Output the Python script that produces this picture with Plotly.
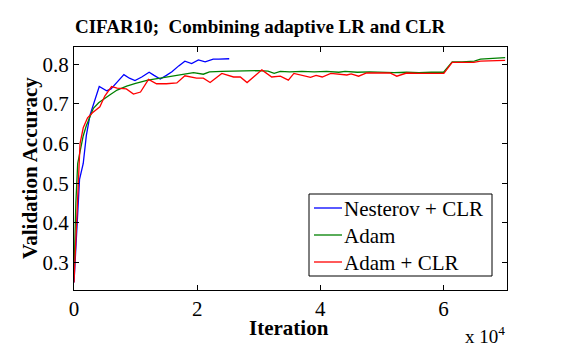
import plotly.graph_objects as go

# Nesterov + CLR
nest_x = [0, 500, 900, 1500, 2000, 2600, 3200, 4100, 5300, 6000, 7000, 8100, 9000, 9900,
          11000, 12200, 13000, 14000, 15000, 15900, 17000, 18000, 19100, 20200, 21300,
          22600, 23500, 25200]
nest_y = [0.25, 0.40, 0.51, 0.55, 0.62, 0.672, 0.702, 0.744, 0.733, 0.738, 0.755, 0.774,
          0.765, 0.759, 0.768, 0.780, 0.772, 0.763, 0.772, 0.781, 0.796, 0.808, 0.802,
          0.811, 0.806, 0.813, 0.813, 0.814]

# Adam
adam_x = [0, 300, 600, 1000, 1500, 2000, 2600, 3150, 4000, 5000, 5850, 7000, 8550, 10000,
          12000, 14000, 16000, 18000, 19400, 21000, 22000, 24000, 26000, 28000, 30000,
          31500, 32500, 33500, 35000, 37000, 39000, 41000, 43000, 44000, 46000, 48000,
          50000, 52000, 54000, 56000, 58000, 60000, 61400, 63000, 65000, 66000, 68000, 70000]
adam_y = [0.27, 0.45, 0.55, 0.584, 0.62, 0.645, 0.668, 0.689, 0.703, 0.715, 0.723, 0.735,
          0.745, 0.752, 0.760, 0.765, 0.770, 0.775, 0.779, 0.775, 0.781, 0.782, 0.783,
          0.783, 0.784, 0.783, 0.777, 0.782, 0.781, 0.782, 0.781, 0.782, 0.780, 0.782,
          0.780, 0.781, 0.780, 0.779, 0.780, 0.779, 0.780, 0.780, 0.806, 0.806, 0.808,
          0.813, 0.815, 0.817]

# Adam + CLR
aclr_x = [0, 500, 980, 1500, 2200, 3000, 4200, 5000, 6100, 7000, 8500, 9650, 10800, 12100,
          13400, 15000, 16700, 18000, 19900, 21000, 22100, 24000, 25900, 27000, 28100,
          30500, 32100, 33500, 34800, 35700, 37000, 38400, 39300, 40300, 41700, 43000,
          44300, 45000, 46200, 47500, 49000, 51300, 52400, 54000, 56000, 58400, 60050,
          61400, 63000, 64900, 66000, 68000, 70000]
aclr_y = [0.25, 0.45, 0.60, 0.64, 0.665, 0.678, 0.693, 0.720, 0.744, 0.740, 0.738, 0.725,
          0.730, 0.762, 0.751, 0.751, 0.753, 0.771, 0.765, 0.765, 0.754, 0.777, 0.768,
          0.768, 0.754, 0.786, 0.768, 0.770, 0.760, 0.777, 0.772, 0.767, 0.772, 0.768,
          0.777, 0.775, 0.773, 0.776, 0.770, 0.778, 0.778, 0.778, 0.770, 0.778, 0.777,
          0.776, 0.777, 0.805, 0.805, 0.805, 0.808, 0.809, 0.810]

series_names = ["Nesterov + CLR", "Adam", "Adam + CLR"]
series_colors = ["#0000ff", "#008000", "#ff0000"]

x_tickvals = [0, 20000, 40000, 60000]
x_ticktext = ["0", "2", "4", "6"]
y_tickvals = [0.3, 0.4, 0.5, 0.6, 0.7, 0.8]
y_ticktext = ["0.3", "0.4", "0.5", "0.6", "0.7", "0.8"]

FONT = "Liberation Serif, Times New Roman, Tinos, serif"

# plot-area pixel geometry (for converting layout positions)
L, R, T, B = 74, 507, 47, 290
def px(x):
    return (x - L) / (R - L)
def py(y):
    return (B - y) / (B - T)

fig = go.Figure()
for xs, ys, nm, col in zip([nest_x, adam_x, aclr_x], [nest_y, adam_y, aclr_y],
                           series_names, series_colors):
    fig.add_trace(go.Scatter(x=xs, y=ys, mode="lines", name=nm,
                             line=dict(color=col, width=1.3), showlegend=False))

axis_common = dict(showline=True, linecolor="black", linewidth=1, mirror="ticks",
                   ticks="inside", ticklen=5, tickcolor="black", showgrid=False,
                   zeroline=False, tickfont=dict(family=FONT, size=21, color="black"))

fig.update_xaxes(range=[0, 70300], tickvals=x_tickvals, ticktext=x_ticktext, **axis_common)
fig.update_yaxes(range=[0.231, 0.8436], tickvals=y_tickvals, ticktext=y_ticktext, **axis_common)

# legend drawn as shapes + annotations to match the reference's compact layout
shapes = [dict(type="rect", xref="paper", yref="paper",
               x0=px(309), x1=px(492), y0=py(276), y1=py(194),
               line=dict(color="black", width=1), fillcolor="white", layer="above")]
annotations = []
row_y = [208, 235, 262]
for nm, col, ry in zip(series_names, series_colors, row_y):
    shapes.append(dict(type="line", xref="paper", yref="paper",
                       x0=px(314), x1=px(342), y0=py(ry), y1=py(ry),
                       line=dict(color=col, width=1.3), layer="above"))
    annotations.append(dict(text=nm, xref="paper", yref="paper", x=px(342), y=py(ry + 1),
                            xanchor="left", yanchor="middle", showarrow=False,
                            font=dict(family=FONT, size=21, color="black")))

annotations += [
    dict(text="<b>CIFAR10;\u00a0 Combining adaptive LR and CLR</b>", xref="paper", yref="paper",
         x=px(260), y=py(26), xanchor="center", yanchor="middle",
         showarrow=False, font=dict(family=FONT, size=19, color="black")),
    dict(text="<b>Iteration</b>", xref="paper", yref="paper",
         x=px(289), y=py(328), xanchor="center", yanchor="middle",
         showarrow=False, font=dict(family=FONT, size=21, color="black")),
    dict(text="<b>Validation Accuracy</b>", xref="paper", yref="paper",
         x=px(30), y=py(168), xanchor="center", yanchor="middle",
         textangle=-90, showarrow=False, font=dict(family=FONT, size=21, color="black")),
    dict(text="x 10<sup>4</sup>", xref="paper", yref="paper",
         x=px(507), y=py(335), xanchor="right", yanchor="middle",
         showarrow=False, font=dict(family=FONT, size=19, color="black")),
]

fig.update_layout(
    width=570, height=352,
    margin=dict(l=L, r=570 - R, t=T, b=352 - B),
    paper_bgcolor="white", plot_bgcolor="white",
    font=dict(family=FONT, color="black"),
    showlegend=False,
    shapes=shapes,
    annotations=annotations,
)

fig.write_html("out.html")
